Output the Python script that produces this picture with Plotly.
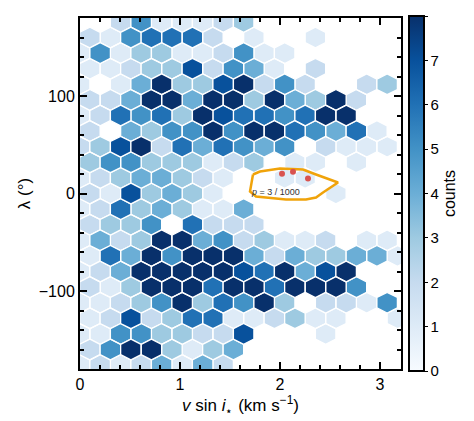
import plotly.graph_objects as go
from plotly.colors import sample_colorscale

# hexbin lattice
hex_dx = 0.205          # centre spacing along v sin i
row_dy = 16.0           # row spacing in lambda (deg)
x0_even = 0.099         # first centre on rows with even index
x0_odd = -0.0035        # first centre on rows with odd index

# counts per row, top row (lambda = 176) to bottom row (lambda = -176)
row_index = list(range(11, -12, -1))
row_counts = [
    [0, 0, 2, 5, 1, 1, 1, 2, 3, 0, 0, 0, 0, 0, 0, 0, 0],
    [2, 1, 5, 6, 6, 6, 2, 0, 1, 0, 0, 1, 0, 0, 0, 0],
    [1, 5, 1, 3, 3, 1, 1, 2, 5, 1, 1, 0, 0, 0, 0, 0, 0],
    [1, 1, 2, 3, 3, 7, 2, 5, 4, 1, 0, 2, 0, 0, 0, 0],
    [1, 0, 1, 4, 8, 3, 3, 7, 8, 2, 5, 2, 0, 0, 2, 3, 0],
    [2, 2, 4, 8, 8, 4, 8, 8, 3, 8, 4, 3, 8, 2, 0, 0],
    [1, 2, 6, 5, 6, 3, 8, 7, 6, 6, 5, 6, 8, 8, 0, 0, 0],
    [2, 0, 4, 3, 5, 5, 8, 5, 8, 8, 6, 5, 4, 6, 1, 0],
    [2, 3, 7, 8, 2, 6, 4, 6, 5, 4, 5, 0, 2, 1, 1, 1, 0],
    [3, 5, 5, 3, 3, 3, 1, 2, 3, 0, 1, 1, 0, 1, 0, 0],
    [1, 2, 3, 4, 4, 3, 2, 1, 0, 0, 1, 1, 0, 0, 0, 0, 0],
    [2, 1, 7, 3, 4, 3, 1, 0, 0, 0, 0, 0, 1, 0, 0, 0],
    [1, 2, 6, 3, 4, 3, 1, 1, 4, 0, 0, 0, 0, 0, 0, 0, 0],
    [2, 3, 3, 5, 0, 6, 2, 2, 2, 0, 0, 0, 0, 0, 0, 0],
    [1, 4, 2, 3, 8, 8, 4, 5, 2, 3, 1, 1, 2, 0, 1, 1, 0],
    [1, 6, 4, 8, 5, 8, 8, 8, 4, 2, 4, 3, 3, 4, 4, 1],
    [1, 2, 4, 8, 8, 8, 8, 8, 7, 6, 8, 4, 7, 8, 0, 0, 0],
    [2, 1, 3, 8, 8, 8, 6, 8, 8, 6, 8, 8, 8, 5, 0, 0],
    [1, 1, 2, 3, 5, 8, 3, 6, 5, 8, 3, 0, 2, 2, 1, 5, 0],
    [1, 2, 7, 2, 3, 6, 6, 1, 1, 2, 3, 1, 1, 0, 0, 1],
    [1, 1, 5, 5, 3, 3, 2, 2, 7, 0, 0, 0, 1, 0, 0, 0, 0],
    [2, 5, 8, 8, 3, 1, 3, 4, 0, 0, 0, 0, 0, 0, 0, 0],
    [1, 2, 1, 2, 4, 1, 4, 2, 0, 0, 0, 0, 0, 0, 0, 0, 0],
]

# probability contour and the three systems inside it
contour_x = [1.73, 1.80, 2.00, 2.23, 2.36, 2.58, 2.43, 2.36, 2.26, 2.06, 1.76, 1.70, 1.73]
contour_y = [19.5, 22.5, 25.6, 24.6, 19.5, 11.3, 1.0, -4.1, -6.2, -6.2, -3.1, 2.1, 19.5]
dots_x = [2.02, 2.13, 2.28]
dots_y = [20.2, 22.3, 15.4]

vmax = 8
half_w = hex_dx / 2
rad = row_dy / 1.5

fig = go.Figure()
polys = {c: ([], []) for c in range(1, vmax + 1)}
for m, counts in zip(row_index, row_counts):
    yc = m * row_dy
    x0 = x0_even if m % 2 == 0 else x0_odd
    for k, c in enumerate(counts):
        if c <= 0:
            continue
        xc = x0 + k * hex_dx
        px = [xc, xc + half_w, xc + half_w, xc, xc - half_w, xc - half_w, xc, None]
        py = [yc + rad, yc + rad / 2, yc - rad / 2, yc - rad, yc - rad / 2, yc + rad / 2, yc + rad, None]
        polys[c][0].extend(px)
        polys[c][1].extend(py)

for c, (px, py) in polys.items():
    col = sample_colorscale("Blues", c / vmax)[0]
    fig.add_trace(go.Scatter(x=px, y=py, mode="lines", fill="toself", fillcolor=col,
                             line=dict(color="white", width=1.3), hoverinfo="skip", showlegend=False))

fig.add_trace(go.Scatter(x=contour_x, y=contour_y, mode="lines", line=dict(color="#f0a30a", width=2.5),
                         showlegend=False, hoverinfo="skip"))
fig.add_trace(go.Scatter(x=dots_x, y=dots_y, mode="markers", marker=dict(color="#d9534f", size=6),
                         showlegend=False, hoverinfo="skip"))
fig.add_annotation(x=1.95, y=2, text="<i>p</i> = 3 / 1000", showarrow=False,
                   font=dict(size=9, color="#333"))

# colorbar only
fig.add_trace(go.Scatter(x=[None], y=[None], mode="markers", showlegend=False,
                         marker=dict(colorscale="Blues", cmin=0, cmax=vmax, color=[0], showscale=True,
                                     colorbar=dict(x=1.025, xanchor="left", y=0.5, len=1.01, thickness=15,
                                                   outlinewidth=2, outlinecolor="black", xpad=0, ypad=0,
                                                   tickvals=list(range(0, vmax + 1)), ticks="outside",
                                                   ticklen=3, tickcolor="black", tickfont=dict(size=15),
                                                   title=dict(text="counts", side="right", font=dict(size=16))))))

axis_common = dict(showgrid=False, zeroline=False, showline=True, linecolor="black", linewidth=2,
                   mirror="ticks", ticks="inside", ticklen=7, tickwidth=1.5, tickcolor="black",
                   tickfont=dict(size=16))
fig.update_xaxes(range=[0, 3.21], dtick=1, minor=dict(dtick=0.2, ticks="inside", ticklen=4),
                 title=dict(text="<i>v</i> sin <i>i</i><sub>⋆</sub> (km s<sup>−1</sup>)", font=dict(size=17),
                            standoff=6),
                 **axis_common)
fig.update_yaxes(range=[-180, 180], tickvals=[-100, 0, 100], ticktext=["−100", "0", "100"],
                 minor=dict(dtick=20, ticks="inside", ticklen=4),
                 title=dict(text="λ (°)", font=dict(size=17), standoff=4), **axis_common)
fig.update_layout(width=474, height=421, margin=dict(l=72, r=81, t=10, b=60, autoexpand=False),
                  plot_bgcolor="white", paper_bgcolor="white",
                  font=dict(family="Liberation Sans, Arial", color="black"))
fig.write_html("out.html")
